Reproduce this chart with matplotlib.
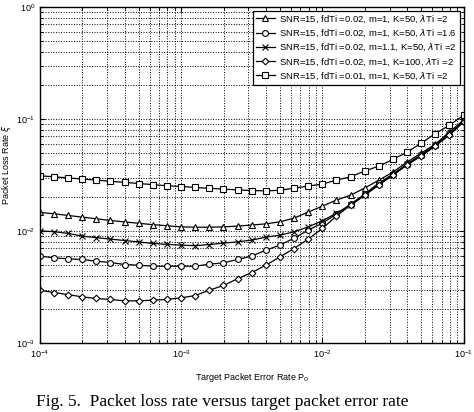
import matplotlib
matplotlib.use('Agg')
import matplotlib.pyplot as plt
import numpy as np

# target packet error rate: 31 points, 10 per decade from 1e-4 to 1e-1
pe_exp = np.arange(0, 31) / 10.0 - 4.0

# log10 of packet loss rate
tri_log = [-1.833, -1.845, -1.86, -1.875, -1.89, -1.905, -1.918, -1.93, -1.942, -1.952,
           -1.962, -1.965, -1.965, -1.962, -1.955, -1.946, -1.935, -1.917, -1.884, -1.83,
           -1.777, -1.723, -1.679, -1.616, -1.545, -1.473, -1.384, -1.304, -1.223, -1.116, -1.009]
cir_log = [-2.223, -2.238, -2.247, -2.253, -2.268, -2.28, -2.298, -2.304, -2.313, -2.313,
           -2.313, -2.313, -2.295, -2.283, -2.253, -2.223, -2.17, -2.125, -2.063, -1.991,
           -1.929, -1.848, -1.759, -1.67, -1.571, -1.491, -1.402, -1.32, -1.232, -1.134, -1.018]
x_log = [-1.997, -2.005, -2.02, -2.045, -2.058, -2.071, -2.084, -2.096, -2.11, -2.118,
         -2.125, -2.13, -2.12, -2.107, -2.096, -2.08, -2.054, -2.036, -2.006, -1.962,
         -1.908, -1.84, -1.768, -1.68, -1.58, -1.5, -1.402, -1.32, -1.232, -1.134, -1.018]
dia_log = [-2.527, -2.548, -2.566, -2.587, -2.601, -2.61, -2.622, -2.622, -2.616, -2.61,
           -2.595, -2.575, -2.527, -2.485, -2.425, -2.37, -2.304, -2.23, -2.155, -2.071,
           -1.976, -1.866, -1.768, -1.68, -1.589, -1.5, -1.41, -1.33, -1.241, -1.143, -1.027]
sq_log = [-1.506, -1.515, -1.525, -1.535, -1.545, -1.555, -1.565, -1.575, -1.585, -1.595,
          -1.602, -1.61, -1.618, -1.625, -1.632, -1.638, -1.64, -1.636, -1.616, -1.598,
          -1.58, -1.545, -1.515, -1.464, -1.42, -1.36, -1.295, -1.215, -1.13, -1.055, -0.965]

labels = [
    r'SNR=15, fdTi =0.02, m=1, K=50, $\lambda$Ti =2',
    r'SNR=15, fdTi =0.02, m=1, K=50, $\lambda$Ti =1.6',
    r'SNR=15, fdTi =0.02, m=1.1, K=50, $\lambda$Ti =2',
    r'SNR=15, fdTi =0.02, m=1, K=100, $\lambda$Ti =2',
    r'SNR=15, fdTi =0.01, m=1, K=50, $\lambda$Ti =2',
]
markers = ['^', 'o', 'x', 'D', 's']
series = [tri_log, cir_log, x_log, dia_log, sq_log]

plt.rcParams['font.family'] = ['Liberation Sans', 'DejaVu Sans']
plt.rcParams['mathtext.fontset'] = 'dejavusans'

fig = plt.figure(figsize=(4.74, 4.12), dpi=100)
ax = fig.add_axes([0.084, 0.167, 0.894, 0.816])

pe = 10.0 ** pe_exp
for ys, m, lab in zip(series, markers, labels):
    ms = 3.4 if m == 'D' else 4.2
    ax.plot(pe, 10.0 ** np.array(ys), color='black', linewidth=0.9, marker=m,
            markersize=ms, markerfacecolor='white', markeredgewidth=0.8, label=lab)

ax.set_xscale('log')
ax.set_yscale('log')
ax.set_xlim(1e-4, 1e-1)
ax.set_ylim(1e-3, 1e0)
ax.grid(which='both', linestyle=':', color='black', linewidth=0.7)
ax.tick_params(which='both', direction='in', top=True, right=True, labelsize=6.5)
for s in ax.spines.values():
    s.set_linewidth(1.0)

ax.set_xlabel(r'Target Packet Error Rate P$_0$', fontsize=6.5, labelpad=8)
ax.set_ylabel(r'Packet Loss Rate $\xi$', fontsize=6.5)
ax.yaxis.set_label_coords(-0.064, 0.53)

leg = ax.legend(loc='upper right', fontsize=6.8, frameon=True, fancybox=False,
                edgecolor='black', framealpha=1, handlelength=2.0, labelspacing=0.3,
                borderaxespad=0.4, borderpad=0.3, handletextpad=0.5)
leg.get_frame().set_linewidth(0.9)

fig.text(0.075, 0.004, 'Fig. 5.  Packet loss rate versus target packet error rate',
         fontsize=12.5, family='Liberation Serif', va='bottom', ha='left')

fig.savefig('out.png', dpi=100)
